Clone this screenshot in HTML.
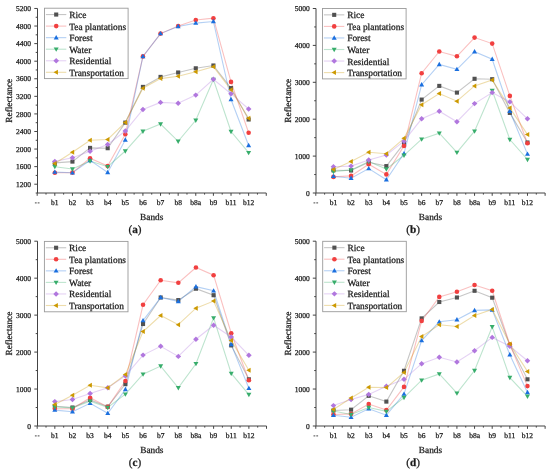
<!DOCTYPE html>
<html><head><meta charset="utf-8"><style>
html,body{margin:0;padding:0;background:#fff;}
svg{display:block;}
text{font-family:"Liberation Serif",serif;fill:#1a1a1a;stroke:#1a1a1a;stroke-width:0.25px;text-rendering:geometricPrecision;}
svg{will-change:transform;}
</style></head><body>
<svg width="550" height="472" viewBox="0 0 550 472">
<rect width="550" height="472" fill="#fff"/>
<path d="M37.5 8.46V193H266.26" fill="none" stroke="#444" stroke-width="1.0"/>
<path d="M37.5 193h-1.8M37.5 184.21h-3.2M37.5 175.42h-1.8M37.5 166.64h-3.2M37.5 157.85h-1.8M37.5 149.06h-3.2M37.5 140.27h-1.8M37.5 131.49h-3.2M37.5 122.7h-1.8M37.5 113.91h-3.2M37.5 105.12h-1.8M37.5 96.34h-3.2M37.5 87.55h-1.8M37.5 78.76h-3.2M37.5 69.97h-1.8M37.5 61.19h-3.2M37.5 52.4h-1.8M37.5 43.61h-3.2M37.5 34.82h-1.8M37.5 26.04h-3.2M37.5 17.25h-1.8M37.5 8.46h-3.2M37.2 193v2.8M46.01 193v1.6M54.82 193v2.8M63.63 193v1.6M72.44 193v2.8M81.25 193v1.6M90.06 193v2.8M98.87 193v1.6M107.68 193v2.8M116.49 193v1.6M125.3 193v2.8M134.11 193v1.6M142.92 193v2.8M151.73 193v1.6M160.54 193v2.8M169.35 193v1.6M178.16 193v2.8M186.97 193v1.6M195.78 193v2.8M204.59 193v1.6M213.4 193v2.8M222.21 193v1.6M231.02 193v2.8M239.83 193v1.6M248.64 193v2.8M257.45 193v1.6M266.26 193v2.8" fill="none" stroke="#444" stroke-width="1.0"/>
<text x="31.1" y="186.81" text-anchor="end" font-size="7.5">1200</text>
<text x="31.1" y="169.24" text-anchor="end" font-size="7.5">1600</text>
<text x="31.1" y="151.66" text-anchor="end" font-size="7.5">2000</text>
<text x="31.1" y="134.09" text-anchor="end" font-size="7.5">2400</text>
<text x="31.1" y="116.51" text-anchor="end" font-size="7.5">2800</text>
<text x="31.1" y="98.94" text-anchor="end" font-size="7.5">3200</text>
<text x="31.1" y="81.36" text-anchor="end" font-size="7.5">3600</text>
<text x="31.1" y="63.79" text-anchor="end" font-size="7.5">4000</text>
<text x="31.1" y="46.21" text-anchor="end" font-size="7.5">4400</text>
<text x="31.1" y="28.64" text-anchor="end" font-size="7.5">4800</text>
<text x="31.1" y="11.06" text-anchor="end" font-size="7.5">5200</text>
<path d="M34.9 202.9h1.8M37.7 202.9h1.8" stroke="#333" stroke-width="0.9"/>
<text x="54.82" y="205.1" text-anchor="middle" font-size="7.5">b1</text>
<text x="72.44" y="205.1" text-anchor="middle" font-size="7.5">b2</text>
<text x="90.06" y="205.1" text-anchor="middle" font-size="7.5">b3</text>
<text x="107.68" y="205.1" text-anchor="middle" font-size="7.5">b4</text>
<text x="125.3" y="205.1" text-anchor="middle" font-size="7.5">b5</text>
<text x="142.92" y="205.1" text-anchor="middle" font-size="7.5">b6</text>
<text x="160.54" y="205.1" text-anchor="middle" font-size="7.5">b7</text>
<text x="178.16" y="205.1" text-anchor="middle" font-size="7.5">b8</text>
<text x="195.78" y="205.1" text-anchor="middle" font-size="7.5">b8a</text>
<text x="213.4" y="205.1" text-anchor="middle" font-size="7.5">b9</text>
<text x="231.02" y="205.1" text-anchor="middle" font-size="7.5">b11</text>
<text x="248.64" y="205.1" text-anchor="middle" font-size="7.5">b12</text>
<text x="151.73" y="219.7" text-anchor="middle" font-size="9.3">Bands</text>
<text transform="translate(12 100.73) rotate(-90)" text-anchor="middle" font-size="9.3">Reflectance</text>
<text x="135" y="233.4" text-anchor="middle" font-size="11.2">(<tspan font-weight="bold">a</tspan>)</text>
<polyline points="54.82,162.9 72.44,161.6 90.06,147.9 107.68,148.2 125.3,122.6 142.92,86.9 160.54,76.9 178.16,72.5 195.78,68.3 213.4,65.5 231.02,88.1 248.64,119.5" fill="none" stroke="#515151" stroke-opacity="0.33" stroke-width="1.1"/>
<polyline points="54.82,172.7 72.44,172.6 90.06,158.2 107.68,166.1 125.3,134.2 142.92,56.4 160.54,33.6 178.16,26 195.78,20 213.4,18.2 231.02,81.9 248.64,132.7" fill="none" stroke="#F14040" stroke-opacity="0.33" stroke-width="1.1"/>
<polyline points="54.82,172.1 72.44,172.8 90.06,160.4 107.68,172.5 125.3,139.9 142.92,56.4 160.54,33.6 178.16,26.5 195.78,23.1 213.4,21.5 231.02,99.5 248.64,145.5" fill="none" stroke="#1A6FDF" stroke-opacity="0.33" stroke-width="1.1"/>
<polyline points="54.82,166.7 72.44,169 90.06,161 107.68,166.7 125.3,151 142.92,131.3 160.54,124 178.16,141.3 195.78,120.3 213.4,79.6 231.02,131.5 248.64,152.7" fill="none" stroke="#37AD6B" stroke-opacity="0.33" stroke-width="1.1"/>
<polyline points="54.82,161.4 72.44,157.8 90.06,151.3 107.68,144.4 125.3,131 142.92,109.5 160.54,102.4 178.16,103.3 195.78,95.1 213.4,79.3 231.02,93.7 248.64,109" fill="none" stroke="#B177DE" stroke-opacity="0.33" stroke-width="1.1"/>
<polyline points="54.82,163.5 72.44,152.3 90.06,140.3 107.68,139.5 125.3,122.5 142.92,88.2 160.54,78.6 178.16,76.2 195.78,71.8 213.4,66.7 231.02,89.8 248.64,118.3" fill="none" stroke="#CC9900" stroke-opacity="0.33" stroke-width="1.1"/>
<rect x="52.77" y="160.85" width="4.1" height="4.1" fill="#515151"/>
<rect x="70.39" y="159.55" width="4.1" height="4.1" fill="#515151"/>
<rect x="88.01" y="145.85" width="4.1" height="4.1" fill="#515151"/>
<rect x="105.63" y="146.15" width="4.1" height="4.1" fill="#515151"/>
<rect x="123.25" y="120.55" width="4.1" height="4.1" fill="#515151"/>
<rect x="140.87" y="84.85" width="4.1" height="4.1" fill="#515151"/>
<rect x="158.49" y="74.85" width="4.1" height="4.1" fill="#515151"/>
<rect x="176.11" y="70.45" width="4.1" height="4.1" fill="#515151"/>
<rect x="193.73" y="66.25" width="4.1" height="4.1" fill="#515151"/>
<rect x="211.35" y="63.45" width="4.1" height="4.1" fill="#515151"/>
<rect x="228.97" y="86.05" width="4.1" height="4.1" fill="#515151"/>
<rect x="246.59" y="117.45" width="4.1" height="4.1" fill="#515151"/>
<circle cx="54.82" cy="172.7" r="2.3" fill="#F14040"/>
<circle cx="72.44" cy="172.6" r="2.3" fill="#F14040"/>
<circle cx="90.06" cy="158.2" r="2.3" fill="#F14040"/>
<circle cx="107.68" cy="166.1" r="2.3" fill="#F14040"/>
<circle cx="125.3" cy="134.2" r="2.3" fill="#F14040"/>
<circle cx="142.92" cy="56.4" r="2.3" fill="#F14040"/>
<circle cx="160.54" cy="33.6" r="2.3" fill="#F14040"/>
<circle cx="178.16" cy="26" r="2.3" fill="#F14040"/>
<circle cx="195.78" cy="20" r="2.3" fill="#F14040"/>
<circle cx="213.4" cy="18.2" r="2.3" fill="#F14040"/>
<circle cx="231.02" cy="81.9" r="2.3" fill="#F14040"/>
<circle cx="248.64" cy="132.7" r="2.3" fill="#F14040"/>
<path d="M54.82 169.46L57.32 173.86L52.32 173.86Z" fill="#1A6FDF"/>
<path d="M72.44 170.16L74.94 174.56L69.94 174.56Z" fill="#1A6FDF"/>
<path d="M90.06 157.76L92.56 162.16L87.56 162.16Z" fill="#1A6FDF"/>
<path d="M107.68 169.86L110.18 174.26L105.18 174.26Z" fill="#1A6FDF"/>
<path d="M125.3 137.26L127.8 141.66L122.8 141.66Z" fill="#1A6FDF"/>
<path d="M142.92 53.76L145.42 58.16L140.42 58.16Z" fill="#1A6FDF"/>
<path d="M160.54 30.96L163.04 35.36L158.04 35.36Z" fill="#1A6FDF"/>
<path d="M178.16 23.86L180.66 28.26L175.66 28.26Z" fill="#1A6FDF"/>
<path d="M195.78 20.46L198.28 24.86L193.28 24.86Z" fill="#1A6FDF"/>
<path d="M213.4 18.86L215.9 23.26L210.9 23.26Z" fill="#1A6FDF"/>
<path d="M231.02 96.86L233.52 101.26L228.52 101.26Z" fill="#1A6FDF"/>
<path d="M248.64 142.86L251.14 147.26L246.14 147.26Z" fill="#1A6FDF"/>
<path d="M54.82 169.34L57.32 164.94L52.32 164.94Z" fill="#37AD6B"/>
<path d="M72.44 171.64L74.94 167.24L69.94 167.24Z" fill="#37AD6B"/>
<path d="M90.06 163.64L92.56 159.24L87.56 159.24Z" fill="#37AD6B"/>
<path d="M107.68 169.34L110.18 164.94L105.18 164.94Z" fill="#37AD6B"/>
<path d="M125.3 153.64L127.8 149.24L122.8 149.24Z" fill="#37AD6B"/>
<path d="M142.92 133.94L145.42 129.54L140.42 129.54Z" fill="#37AD6B"/>
<path d="M160.54 126.64L163.04 122.24L158.04 122.24Z" fill="#37AD6B"/>
<path d="M178.16 143.94L180.66 139.54L175.66 139.54Z" fill="#37AD6B"/>
<path d="M195.78 122.94L198.28 118.54L193.28 118.54Z" fill="#37AD6B"/>
<path d="M213.4 82.24L215.9 77.84L210.9 77.84Z" fill="#37AD6B"/>
<path d="M231.02 134.14L233.52 129.74L228.52 129.74Z" fill="#37AD6B"/>
<path d="M248.64 155.34L251.14 150.94L246.14 150.94Z" fill="#37AD6B"/>
<path d="M54.82 158.7L57.62 161.4L54.82 164.1L52.02 161.4Z" fill="#B177DE"/>
<path d="M72.44 155.1L75.24 157.8L72.44 160.5L69.64 157.8Z" fill="#B177DE"/>
<path d="M90.06 148.6L92.86 151.3L90.06 154L87.26 151.3Z" fill="#B177DE"/>
<path d="M107.68 141.7L110.48 144.4L107.68 147.1L104.88 144.4Z" fill="#B177DE"/>
<path d="M125.3 128.3L128.1 131L125.3 133.7L122.5 131Z" fill="#B177DE"/>
<path d="M142.92 106.8L145.72 109.5L142.92 112.2L140.12 109.5Z" fill="#B177DE"/>
<path d="M160.54 99.7L163.34 102.4L160.54 105.1L157.74 102.4Z" fill="#B177DE"/>
<path d="M178.16 100.6L180.96 103.3L178.16 106L175.36 103.3Z" fill="#B177DE"/>
<path d="M195.78 92.4L198.58 95.1L195.78 97.8L192.98 95.1Z" fill="#B177DE"/>
<path d="M213.4 76.6L216.2 79.3L213.4 82L210.6 79.3Z" fill="#B177DE"/>
<path d="M231.02 91L233.82 93.7L231.02 96.4L228.22 93.7Z" fill="#B177DE"/>
<path d="M248.64 106.3L251.44 109L248.64 111.7L245.84 109Z" fill="#B177DE"/>
<path d="M52.18 163.5L56.58 161L56.58 166Z" fill="#CC9900"/>
<path d="M69.8 152.3L74.2 149.8L74.2 154.8Z" fill="#CC9900"/>
<path d="M87.42 140.3L91.82 137.8L91.82 142.8Z" fill="#CC9900"/>
<path d="M105.04 139.5L109.44 137L109.44 142Z" fill="#CC9900"/>
<path d="M122.66 122.5L127.06 120L127.06 125Z" fill="#CC9900"/>
<path d="M140.28 88.2L144.68 85.7L144.68 90.7Z" fill="#CC9900"/>
<path d="M157.9 78.6L162.3 76.1L162.3 81.1Z" fill="#CC9900"/>
<path d="M175.52 76.2L179.92 73.7L179.92 78.7Z" fill="#CC9900"/>
<path d="M193.14 71.8L197.54 69.3L197.54 74.3Z" fill="#CC9900"/>
<path d="M210.76 66.7L215.16 64.2L215.16 69.2Z" fill="#CC9900"/>
<path d="M228.38 89.8L232.78 87.3L232.78 92.3Z" fill="#CC9900"/>
<path d="M246 118.3L250.4 115.8L250.4 120.8Z" fill="#CC9900"/>
<rect x="44.5" y="8.2" width="83.6" height="70.4" fill="#fff" stroke="#9a9a9a" stroke-width="0.9"/>
<path d="M45.9 14.55H66.3" stroke="#515151" stroke-opacity="0.33" stroke-width="1.1"/>
<rect x="54.15" y="12.5" width="4.1" height="4.1" fill="#515151"/>
<text x="69.2" y="18.05" font-size="9.4">Rice</text>
<path d="M45.9 26.1H66.3" stroke="#F14040" stroke-opacity="0.33" stroke-width="1.1"/>
<circle cx="56.2" cy="26.1" r="2.3" fill="#F14040"/>
<text x="69.2" y="29.6" font-size="9.4">Tea plantations</text>
<path d="M45.9 37.65H66.3" stroke="#1A6FDF" stroke-opacity="0.33" stroke-width="1.1"/>
<path d="M56.2 35.01L58.7 39.41L53.7 39.41Z" fill="#1A6FDF"/>
<text x="69.2" y="41.15" font-size="9.4">Forest</text>
<path d="M45.9 49.2H66.3" stroke="#37AD6B" stroke-opacity="0.33" stroke-width="1.1"/>
<path d="M56.2 51.84L58.7 47.44L53.7 47.44Z" fill="#37AD6B"/>
<text x="69.2" y="52.7" font-size="9.4">Water</text>
<path d="M45.9 60.75H66.3" stroke="#B177DE" stroke-opacity="0.33" stroke-width="1.1"/>
<path d="M56.2 58.05L59 60.75L56.2 63.45L53.4 60.75Z" fill="#B177DE"/>
<text x="69.2" y="64.25" font-size="9.4">Residential</text>
<path d="M45.9 72.3H66.3" stroke="#CC9900" stroke-opacity="0.33" stroke-width="1.1"/>
<path d="M53.56 72.3L57.96 69.8L57.96 74.8Z" fill="#CC9900"/>
<text x="69.2" y="75.8" font-size="9.4">Transportation</text>
<path d="M316 8.5V193H545.12" fill="none" stroke="#444" stroke-width="1.0"/>
<path d="M316 193h-3.2M316 174.55h-1.8M316 156.1h-3.2M316 137.65h-1.8M316 119.2h-3.2M316 100.75h-1.8M316 82.3h-3.2M316 63.85h-1.8M316 45.4h-3.2M316 26.95h-1.8M316 8.5h-3.2M315.8 193v2.8M324.62 193v1.6M333.44 193v2.8M342.26 193v1.6M351.08 193v2.8M359.9 193v1.6M368.72 193v2.8M377.54 193v1.6M386.36 193v2.8M395.18 193v1.6M404 193v2.8M412.82 193v1.6M421.64 193v2.8M430.46 193v1.6M439.28 193v2.8M448.1 193v1.6M456.92 193v2.8M465.74 193v1.6M474.56 193v2.8M483.38 193v1.6M492.2 193v2.8M501.02 193v1.6M509.84 193v2.8M518.66 193v1.6M527.48 193v2.8M536.3 193v1.6M545.12 193v2.8" fill="none" stroke="#444" stroke-width="1.0"/>
<text x="309.7" y="195.6" text-anchor="end" font-size="7.5">0</text>
<text x="309.7" y="158.7" text-anchor="end" font-size="7.5">1000</text>
<text x="309.7" y="121.8" text-anchor="end" font-size="7.5">2000</text>
<text x="309.7" y="84.9" text-anchor="end" font-size="7.5">3000</text>
<text x="309.7" y="48" text-anchor="end" font-size="7.5">4000</text>
<text x="309.7" y="11.1" text-anchor="end" font-size="7.5">5000</text>
<path d="M313.5 202.9h1.8M316.3 202.9h1.8" stroke="#333" stroke-width="0.9"/>
<text x="333.44" y="205.1" text-anchor="middle" font-size="7.5">b1</text>
<text x="351.08" y="205.1" text-anchor="middle" font-size="7.5">b2</text>
<text x="368.72" y="205.1" text-anchor="middle" font-size="7.5">b3</text>
<text x="386.36" y="205.1" text-anchor="middle" font-size="7.5">b4</text>
<text x="404" y="205.1" text-anchor="middle" font-size="7.5">b5</text>
<text x="421.64" y="205.1" text-anchor="middle" font-size="7.5">b6</text>
<text x="439.28" y="205.1" text-anchor="middle" font-size="7.5">b7</text>
<text x="456.92" y="205.1" text-anchor="middle" font-size="7.5">b8</text>
<text x="474.56" y="205.1" text-anchor="middle" font-size="7.5">b8a</text>
<text x="492.2" y="205.1" text-anchor="middle" font-size="7.5">b9</text>
<text x="509.84" y="205.1" text-anchor="middle" font-size="7.5">b11</text>
<text x="527.48" y="205.1" text-anchor="middle" font-size="7.5">b12</text>
<text x="430.46" y="219.7" text-anchor="middle" font-size="9.3">Bands</text>
<text transform="translate(290.6 100.75) rotate(-90)" text-anchor="middle" font-size="9.3">Reflectance</text>
<text x="413.2" y="233.4" text-anchor="middle" font-size="11.2">(<tspan font-weight="bold">b</tspan>)</text>
<polyline points="333.44,170.3 351.08,170.5 368.72,162.3 386.36,166.1 404,143.4 421.64,99.6 439.28,85.9 456.92,92.6 474.56,78.8 492.2,79.2 509.84,112.9 527.48,142.5" fill="none" stroke="#515151" stroke-opacity="0.33" stroke-width="1.1"/>
<polyline points="333.44,176.9 351.08,175.9 368.72,164.2 386.36,174.4 404,145.9 421.64,73.2 439.28,51.5 456.92,56.3 474.56,37.6 492.2,43.6 509.84,95.9 527.48,143.2" fill="none" stroke="#F14040" stroke-opacity="0.33" stroke-width="1.1"/>
<polyline points="333.44,176.3 351.08,178.2 368.72,168.6 386.36,179.7 404,153.6 421.64,84.7 439.28,64.4 456.92,69.3 474.56,51.7 492.2,59.2 509.84,111.2 527.48,154.1" fill="none" stroke="#1A6FDF" stroke-opacity="0.33" stroke-width="1.1"/>
<polyline points="333.44,171.6 351.08,169.9 368.72,161.6 386.36,169 404,155.3 421.64,139.2 439.28,133.2 456.92,152.4 474.56,131.2 492.2,90.6 509.84,139.5 527.48,159.5" fill="none" stroke="#37AD6B" stroke-opacity="0.33" stroke-width="1.1"/>
<polyline points="333.44,166.7 351.08,166.1 368.72,160 386.36,155 404,141.2 421.64,118.8 439.28,111.2 456.92,121.7 474.56,103.6 492.2,92.6 509.84,101.9 527.48,118.8" fill="none" stroke="#B177DE" stroke-opacity="0.33" stroke-width="1.1"/>
<polyline points="333.44,169.5 351.08,161.4 368.72,152.3 386.36,153.7 404,138.3 421.64,104.7 439.28,93.5 456.92,101.2 474.56,85.9 492.2,80 509.84,107.9 527.48,134.6" fill="none" stroke="#CC9900" stroke-opacity="0.33" stroke-width="1.1"/>
<rect x="331.39" y="168.25" width="4.1" height="4.1" fill="#515151"/>
<rect x="349.03" y="168.45" width="4.1" height="4.1" fill="#515151"/>
<rect x="366.67" y="160.25" width="4.1" height="4.1" fill="#515151"/>
<rect x="384.31" y="164.05" width="4.1" height="4.1" fill="#515151"/>
<rect x="401.95" y="141.35" width="4.1" height="4.1" fill="#515151"/>
<rect x="419.59" y="97.55" width="4.1" height="4.1" fill="#515151"/>
<rect x="437.23" y="83.85" width="4.1" height="4.1" fill="#515151"/>
<rect x="454.87" y="90.55" width="4.1" height="4.1" fill="#515151"/>
<rect x="472.51" y="76.75" width="4.1" height="4.1" fill="#515151"/>
<rect x="490.15" y="77.15" width="4.1" height="4.1" fill="#515151"/>
<rect x="507.79" y="110.85" width="4.1" height="4.1" fill="#515151"/>
<rect x="525.43" y="140.45" width="4.1" height="4.1" fill="#515151"/>
<circle cx="333.44" cy="176.9" r="2.3" fill="#F14040"/>
<circle cx="351.08" cy="175.9" r="2.3" fill="#F14040"/>
<circle cx="368.72" cy="164.2" r="2.3" fill="#F14040"/>
<circle cx="386.36" cy="174.4" r="2.3" fill="#F14040"/>
<circle cx="404" cy="145.9" r="2.3" fill="#F14040"/>
<circle cx="421.64" cy="73.2" r="2.3" fill="#F14040"/>
<circle cx="439.28" cy="51.5" r="2.3" fill="#F14040"/>
<circle cx="456.92" cy="56.3" r="2.3" fill="#F14040"/>
<circle cx="474.56" cy="37.6" r="2.3" fill="#F14040"/>
<circle cx="492.2" cy="43.6" r="2.3" fill="#F14040"/>
<circle cx="509.84" cy="95.9" r="2.3" fill="#F14040"/>
<circle cx="527.48" cy="143.2" r="2.3" fill="#F14040"/>
<path d="M333.44 173.66L335.94 178.06L330.94 178.06Z" fill="#1A6FDF"/>
<path d="M351.08 175.56L353.58 179.96L348.58 179.96Z" fill="#1A6FDF"/>
<path d="M368.72 165.96L371.22 170.36L366.22 170.36Z" fill="#1A6FDF"/>
<path d="M386.36 177.06L388.86 181.46L383.86 181.46Z" fill="#1A6FDF"/>
<path d="M404 150.96L406.5 155.36L401.5 155.36Z" fill="#1A6FDF"/>
<path d="M421.64 82.06L424.14 86.46L419.14 86.46Z" fill="#1A6FDF"/>
<path d="M439.28 61.76L441.78 66.16L436.78 66.16Z" fill="#1A6FDF"/>
<path d="M456.92 66.66L459.42 71.06L454.42 71.06Z" fill="#1A6FDF"/>
<path d="M474.56 49.06L477.06 53.46L472.06 53.46Z" fill="#1A6FDF"/>
<path d="M492.2 56.56L494.7 60.96L489.7 60.96Z" fill="#1A6FDF"/>
<path d="M509.84 108.56L512.34 112.96L507.34 112.96Z" fill="#1A6FDF"/>
<path d="M527.48 151.46L529.98 155.86L524.98 155.86Z" fill="#1A6FDF"/>
<path d="M333.44 174.24L335.94 169.84L330.94 169.84Z" fill="#37AD6B"/>
<path d="M351.08 172.54L353.58 168.14L348.58 168.14Z" fill="#37AD6B"/>
<path d="M368.72 164.24L371.22 159.84L366.22 159.84Z" fill="#37AD6B"/>
<path d="M386.36 171.64L388.86 167.24L383.86 167.24Z" fill="#37AD6B"/>
<path d="M404 157.94L406.5 153.54L401.5 153.54Z" fill="#37AD6B"/>
<path d="M421.64 141.84L424.14 137.44L419.14 137.44Z" fill="#37AD6B"/>
<path d="M439.28 135.84L441.78 131.44L436.78 131.44Z" fill="#37AD6B"/>
<path d="M456.92 155.04L459.42 150.64L454.42 150.64Z" fill="#37AD6B"/>
<path d="M474.56 133.84L477.06 129.44L472.06 129.44Z" fill="#37AD6B"/>
<path d="M492.2 93.24L494.7 88.84L489.7 88.84Z" fill="#37AD6B"/>
<path d="M509.84 142.14L512.34 137.74L507.34 137.74Z" fill="#37AD6B"/>
<path d="M527.48 162.14L529.98 157.74L524.98 157.74Z" fill="#37AD6B"/>
<path d="M333.44 164L336.24 166.7L333.44 169.4L330.64 166.7Z" fill="#B177DE"/>
<path d="M351.08 163.4L353.88 166.1L351.08 168.8L348.28 166.1Z" fill="#B177DE"/>
<path d="M368.72 157.3L371.52 160L368.72 162.7L365.92 160Z" fill="#B177DE"/>
<path d="M386.36 152.3L389.16 155L386.36 157.7L383.56 155Z" fill="#B177DE"/>
<path d="M404 138.5L406.8 141.2L404 143.9L401.2 141.2Z" fill="#B177DE"/>
<path d="M421.64 116.1L424.44 118.8L421.64 121.5L418.84 118.8Z" fill="#B177DE"/>
<path d="M439.28 108.5L442.08 111.2L439.28 113.9L436.48 111.2Z" fill="#B177DE"/>
<path d="M456.92 119L459.72 121.7L456.92 124.4L454.12 121.7Z" fill="#B177DE"/>
<path d="M474.56 100.9L477.36 103.6L474.56 106.3L471.76 103.6Z" fill="#B177DE"/>
<path d="M492.2 89.9L495 92.6L492.2 95.3L489.4 92.6Z" fill="#B177DE"/>
<path d="M509.84 99.2L512.64 101.9L509.84 104.6L507.04 101.9Z" fill="#B177DE"/>
<path d="M527.48 116.1L530.28 118.8L527.48 121.5L524.68 118.8Z" fill="#B177DE"/>
<path d="M330.8 169.5L335.2 167L335.2 172Z" fill="#CC9900"/>
<path d="M348.44 161.4L352.84 158.9L352.84 163.9Z" fill="#CC9900"/>
<path d="M366.08 152.3L370.48 149.8L370.48 154.8Z" fill="#CC9900"/>
<path d="M383.72 153.7L388.12 151.2L388.12 156.2Z" fill="#CC9900"/>
<path d="M401.36 138.3L405.76 135.8L405.76 140.8Z" fill="#CC9900"/>
<path d="M419 104.7L423.4 102.2L423.4 107.2Z" fill="#CC9900"/>
<path d="M436.64 93.5L441.04 91L441.04 96Z" fill="#CC9900"/>
<path d="M454.28 101.2L458.68 98.7L458.68 103.7Z" fill="#CC9900"/>
<path d="M471.92 85.9L476.32 83.4L476.32 88.4Z" fill="#CC9900"/>
<path d="M489.56 80L493.96 77.5L493.96 82.5Z" fill="#CC9900"/>
<path d="M507.2 107.9L511.6 105.4L511.6 110.4Z" fill="#CC9900"/>
<path d="M524.84 134.6L529.24 132.1L529.24 137.1Z" fill="#CC9900"/>
<rect x="322.5" y="8.5" width="83.6" height="70.4" fill="#fff" stroke="#9a9a9a" stroke-width="0.9"/>
<path d="M323.9 14.85H344.3" stroke="#515151" stroke-opacity="0.33" stroke-width="1.1"/>
<rect x="332.15" y="12.8" width="4.1" height="4.1" fill="#515151"/>
<text x="347.2" y="18.35" font-size="9.4">Rice</text>
<path d="M323.9 26.4H344.3" stroke="#F14040" stroke-opacity="0.33" stroke-width="1.1"/>
<circle cx="334.2" cy="26.4" r="2.3" fill="#F14040"/>
<text x="347.2" y="29.9" font-size="9.4">Tea plantations</text>
<path d="M323.9 37.95H344.3" stroke="#1A6FDF" stroke-opacity="0.33" stroke-width="1.1"/>
<path d="M334.2 35.31L336.7 39.71L331.7 39.71Z" fill="#1A6FDF"/>
<text x="347.2" y="41.45" font-size="9.4">Forest</text>
<path d="M323.9 49.5H344.3" stroke="#37AD6B" stroke-opacity="0.33" stroke-width="1.1"/>
<path d="M334.2 52.14L336.7 47.74L331.7 47.74Z" fill="#37AD6B"/>
<text x="347.2" y="53" font-size="9.4">Water</text>
<path d="M323.9 61.05H344.3" stroke="#B177DE" stroke-opacity="0.33" stroke-width="1.1"/>
<path d="M334.2 58.35L337 61.05L334.2 63.75L331.4 61.05Z" fill="#B177DE"/>
<text x="347.2" y="64.55" font-size="9.4">Residential</text>
<path d="M323.9 72.6H344.3" stroke="#CC9900" stroke-opacity="0.33" stroke-width="1.1"/>
<path d="M331.56 72.6L335.96 70.1L335.96 75.1Z" fill="#CC9900"/>
<text x="347.2" y="76.1" font-size="9.4">Transportation</text>
<path d="M37.5 241.2V426H266.52" fill="none" stroke="#444" stroke-width="1.0"/>
<path d="M37.5 426h-3.2M37.5 407.52h-1.8M37.5 389.04h-3.2M37.5 370.56h-1.8M37.5 352.08h-3.2M37.5 333.6h-1.8M37.5 315.12h-3.2M37.5 296.64h-1.8M37.5 278.16h-3.2M37.5 259.68h-1.8M37.5 241.2h-3.2M37.2 426v2.8M46.02 426v1.6M54.84 426v2.8M63.66 426v1.6M72.48 426v2.8M81.3 426v1.6M90.12 426v2.8M98.94 426v1.6M107.76 426v2.8M116.58 426v1.6M125.4 426v2.8M134.22 426v1.6M143.04 426v2.8M151.86 426v1.6M160.68 426v2.8M169.5 426v1.6M178.32 426v2.8M187.14 426v1.6M195.96 426v2.8M204.78 426v1.6M213.6 426v2.8M222.42 426v1.6M231.24 426v2.8M240.06 426v1.6M248.88 426v2.8M257.7 426v1.6M266.52 426v2.8" fill="none" stroke="#444" stroke-width="1.0"/>
<text x="31.1" y="428.6" text-anchor="end" font-size="7.5">0</text>
<text x="31.1" y="391.64" text-anchor="end" font-size="7.5">1000</text>
<text x="31.1" y="354.68" text-anchor="end" font-size="7.5">2000</text>
<text x="31.1" y="317.72" text-anchor="end" font-size="7.5">3000</text>
<text x="31.1" y="280.76" text-anchor="end" font-size="7.5">4000</text>
<text x="31.1" y="243.8" text-anchor="end" font-size="7.5">5000</text>
<path d="M34.9 435.9h1.8M37.7 435.9h1.8" stroke="#333" stroke-width="0.9"/>
<text x="54.84" y="438.1" text-anchor="middle" font-size="7.5">b1</text>
<text x="72.48" y="438.1" text-anchor="middle" font-size="7.5">b2</text>
<text x="90.12" y="438.1" text-anchor="middle" font-size="7.5">b3</text>
<text x="107.76" y="438.1" text-anchor="middle" font-size="7.5">b4</text>
<text x="125.4" y="438.1" text-anchor="middle" font-size="7.5">b5</text>
<text x="143.04" y="438.1" text-anchor="middle" font-size="7.5">b6</text>
<text x="160.68" y="438.1" text-anchor="middle" font-size="7.5">b7</text>
<text x="178.32" y="438.1" text-anchor="middle" font-size="7.5">b8</text>
<text x="195.96" y="438.1" text-anchor="middle" font-size="7.5">b8a</text>
<text x="213.6" y="438.1" text-anchor="middle" font-size="7.5">b9</text>
<text x="231.24" y="438.1" text-anchor="middle" font-size="7.5">b11</text>
<text x="248.88" y="438.1" text-anchor="middle" font-size="7.5">b12</text>
<text x="151.86" y="452.7" text-anchor="middle" font-size="9.3">Bands</text>
<text transform="translate(12 333.6) rotate(-90)" text-anchor="middle" font-size="9.3">Reflectance</text>
<text x="135" y="466.4" text-anchor="middle" font-size="11.2">(<tspan font-weight="bold">c</tspan>)</text>
<polyline points="54.84,406.3 72.48,407.5 90.12,399.9 107.76,406.7 125.4,384.1 143.04,324 160.68,297.5 178.32,300.1 195.96,288.7 213.6,295.2 231.24,345.4 248.88,379.3" fill="none" stroke="#515151" stroke-opacity="0.33" stroke-width="1.1"/>
<polyline points="54.84,408.8 72.48,408.8 90.12,397.7 107.76,406.9 125.4,381 143.04,304.8 160.68,280.3 178.32,282.8 195.96,267.5 213.6,275.2 231.24,333.2 248.88,380.2" fill="none" stroke="#F14040" stroke-opacity="0.33" stroke-width="1.1"/>
<polyline points="54.84,410.1 72.48,411.7 90.12,403.3 107.76,413.3 125.4,389.5 143.04,320.6 160.68,297.5 178.32,301.4 195.96,286.7 213.6,290.8 231.24,344.6 248.88,388.3" fill="none" stroke="#1A6FDF" stroke-opacity="0.33" stroke-width="1.1"/>
<polyline points="54.84,406.9 72.48,407.9 90.12,401.2 107.76,407.5 125.4,394.2 143.04,374.2 160.68,366.1 178.32,387.8 195.96,363.7 213.6,317.9 231.24,373.4 248.88,394.6" fill="none" stroke="#37AD6B" stroke-opacity="0.33" stroke-width="1.1"/>
<polyline points="54.84,401.6 72.48,399.5 90.12,393.5 107.76,387.8 125.4,375.9 143.04,355.1 160.68,346.3 178.32,356.4 195.96,339.2 213.6,325.3 231.24,337 248.88,355.3" fill="none" stroke="#B177DE" stroke-opacity="0.33" stroke-width="1.1"/>
<polyline points="54.84,404.6 72.48,395.2 90.12,385.3 107.76,387.8 125.4,374.6 143.04,331.5 160.68,315.5 178.32,324.7 195.96,308.2 213.6,301.1 231.24,340.4 248.88,370.3" fill="none" stroke="#CC9900" stroke-opacity="0.33" stroke-width="1.1"/>
<rect x="52.79" y="404.25" width="4.1" height="4.1" fill="#515151"/>
<rect x="70.43" y="405.45" width="4.1" height="4.1" fill="#515151"/>
<rect x="88.07" y="397.85" width="4.1" height="4.1" fill="#515151"/>
<rect x="105.71" y="404.65" width="4.1" height="4.1" fill="#515151"/>
<rect x="123.35" y="382.05" width="4.1" height="4.1" fill="#515151"/>
<rect x="140.99" y="321.95" width="4.1" height="4.1" fill="#515151"/>
<rect x="158.63" y="295.45" width="4.1" height="4.1" fill="#515151"/>
<rect x="176.27" y="298.05" width="4.1" height="4.1" fill="#515151"/>
<rect x="193.91" y="286.65" width="4.1" height="4.1" fill="#515151"/>
<rect x="211.55" y="293.15" width="4.1" height="4.1" fill="#515151"/>
<rect x="229.19" y="343.35" width="4.1" height="4.1" fill="#515151"/>
<rect x="246.83" y="377.25" width="4.1" height="4.1" fill="#515151"/>
<circle cx="54.84" cy="408.8" r="2.3" fill="#F14040"/>
<circle cx="72.48" cy="408.8" r="2.3" fill="#F14040"/>
<circle cx="90.12" cy="397.7" r="2.3" fill="#F14040"/>
<circle cx="107.76" cy="406.9" r="2.3" fill="#F14040"/>
<circle cx="125.4" cy="381" r="2.3" fill="#F14040"/>
<circle cx="143.04" cy="304.8" r="2.3" fill="#F14040"/>
<circle cx="160.68" cy="280.3" r="2.3" fill="#F14040"/>
<circle cx="178.32" cy="282.8" r="2.3" fill="#F14040"/>
<circle cx="195.96" cy="267.5" r="2.3" fill="#F14040"/>
<circle cx="213.6" cy="275.2" r="2.3" fill="#F14040"/>
<circle cx="231.24" cy="333.2" r="2.3" fill="#F14040"/>
<circle cx="248.88" cy="380.2" r="2.3" fill="#F14040"/>
<path d="M54.84 407.46L57.34 411.86L52.34 411.86Z" fill="#1A6FDF"/>
<path d="M72.48 409.06L74.98 413.46L69.98 413.46Z" fill="#1A6FDF"/>
<path d="M90.12 400.66L92.62 405.06L87.62 405.06Z" fill="#1A6FDF"/>
<path d="M107.76 410.66L110.26 415.06L105.26 415.06Z" fill="#1A6FDF"/>
<path d="M125.4 386.86L127.9 391.26L122.9 391.26Z" fill="#1A6FDF"/>
<path d="M143.04 317.96L145.54 322.36L140.54 322.36Z" fill="#1A6FDF"/>
<path d="M160.68 294.86L163.18 299.26L158.18 299.26Z" fill="#1A6FDF"/>
<path d="M178.32 298.76L180.82 303.16L175.82 303.16Z" fill="#1A6FDF"/>
<path d="M195.96 284.06L198.46 288.46L193.46 288.46Z" fill="#1A6FDF"/>
<path d="M213.6 288.16L216.1 292.56L211.1 292.56Z" fill="#1A6FDF"/>
<path d="M231.24 341.96L233.74 346.36L228.74 346.36Z" fill="#1A6FDF"/>
<path d="M248.88 385.66L251.38 390.06L246.38 390.06Z" fill="#1A6FDF"/>
<path d="M54.84 409.54L57.34 405.14L52.34 405.14Z" fill="#37AD6B"/>
<path d="M72.48 410.54L74.98 406.14L69.98 406.14Z" fill="#37AD6B"/>
<path d="M90.12 403.84L92.62 399.44L87.62 399.44Z" fill="#37AD6B"/>
<path d="M107.76 410.14L110.26 405.74L105.26 405.74Z" fill="#37AD6B"/>
<path d="M125.4 396.84L127.9 392.44L122.9 392.44Z" fill="#37AD6B"/>
<path d="M143.04 376.84L145.54 372.44L140.54 372.44Z" fill="#37AD6B"/>
<path d="M160.68 368.74L163.18 364.34L158.18 364.34Z" fill="#37AD6B"/>
<path d="M178.32 390.44L180.82 386.04L175.82 386.04Z" fill="#37AD6B"/>
<path d="M195.96 366.34L198.46 361.94L193.46 361.94Z" fill="#37AD6B"/>
<path d="M213.6 320.54L216.1 316.14L211.1 316.14Z" fill="#37AD6B"/>
<path d="M231.24 376.04L233.74 371.64L228.74 371.64Z" fill="#37AD6B"/>
<path d="M248.88 397.24L251.38 392.84L246.38 392.84Z" fill="#37AD6B"/>
<path d="M54.84 398.9L57.64 401.6L54.84 404.3L52.04 401.6Z" fill="#B177DE"/>
<path d="M72.48 396.8L75.28 399.5L72.48 402.2L69.68 399.5Z" fill="#B177DE"/>
<path d="M90.12 390.8L92.92 393.5L90.12 396.2L87.32 393.5Z" fill="#B177DE"/>
<path d="M107.76 385.1L110.56 387.8L107.76 390.5L104.96 387.8Z" fill="#B177DE"/>
<path d="M125.4 373.2L128.2 375.9L125.4 378.6L122.6 375.9Z" fill="#B177DE"/>
<path d="M143.04 352.4L145.84 355.1L143.04 357.8L140.24 355.1Z" fill="#B177DE"/>
<path d="M160.68 343.6L163.48 346.3L160.68 349L157.88 346.3Z" fill="#B177DE"/>
<path d="M178.32 353.7L181.12 356.4L178.32 359.1L175.52 356.4Z" fill="#B177DE"/>
<path d="M195.96 336.5L198.76 339.2L195.96 341.9L193.16 339.2Z" fill="#B177DE"/>
<path d="M213.6 322.6L216.4 325.3L213.6 328L210.8 325.3Z" fill="#B177DE"/>
<path d="M231.24 334.3L234.04 337L231.24 339.7L228.44 337Z" fill="#B177DE"/>
<path d="M248.88 352.6L251.68 355.3L248.88 358L246.08 355.3Z" fill="#B177DE"/>
<path d="M52.2 404.6L56.6 402.1L56.6 407.1Z" fill="#CC9900"/>
<path d="M69.84 395.2L74.24 392.7L74.24 397.7Z" fill="#CC9900"/>
<path d="M87.48 385.3L91.88 382.8L91.88 387.8Z" fill="#CC9900"/>
<path d="M105.12 387.8L109.52 385.3L109.52 390.3Z" fill="#CC9900"/>
<path d="M122.76 374.6L127.16 372.1L127.16 377.1Z" fill="#CC9900"/>
<path d="M140.4 331.5L144.8 329L144.8 334Z" fill="#CC9900"/>
<path d="M158.04 315.5L162.44 313L162.44 318Z" fill="#CC9900"/>
<path d="M175.68 324.7L180.08 322.2L180.08 327.2Z" fill="#CC9900"/>
<path d="M193.32 308.2L197.72 305.7L197.72 310.7Z" fill="#CC9900"/>
<path d="M210.96 301.1L215.36 298.6L215.36 303.6Z" fill="#CC9900"/>
<path d="M228.6 340.4L233 337.9L233 342.9Z" fill="#CC9900"/>
<path d="M246.24 370.3L250.64 367.8L250.64 372.8Z" fill="#CC9900"/>
<rect x="44.4" y="241.4" width="83.6" height="70.4" fill="#fff" stroke="#9a9a9a" stroke-width="0.9"/>
<path d="M45.8 247.75H66.2" stroke="#515151" stroke-opacity="0.33" stroke-width="1.1"/>
<rect x="54.05" y="245.7" width="4.1" height="4.1" fill="#515151"/>
<text x="69.1" y="251.25" font-size="9.4">Rice</text>
<path d="M45.8 259.3H66.2" stroke="#F14040" stroke-opacity="0.33" stroke-width="1.1"/>
<circle cx="56.1" cy="259.3" r="2.3" fill="#F14040"/>
<text x="69.1" y="262.8" font-size="9.4">Tea plantations</text>
<path d="M45.8 270.85H66.2" stroke="#1A6FDF" stroke-opacity="0.33" stroke-width="1.1"/>
<path d="M56.1 268.21L58.6 272.61L53.6 272.61Z" fill="#1A6FDF"/>
<text x="69.1" y="274.35" font-size="9.4">Forest</text>
<path d="M45.8 282.4H66.2" stroke="#37AD6B" stroke-opacity="0.33" stroke-width="1.1"/>
<path d="M56.1 285.04L58.6 280.64L53.6 280.64Z" fill="#37AD6B"/>
<text x="69.1" y="285.9" font-size="9.4">Water</text>
<path d="M45.8 293.95H66.2" stroke="#B177DE" stroke-opacity="0.33" stroke-width="1.1"/>
<path d="M56.1 291.25L58.9 293.95L56.1 296.65L53.3 293.95Z" fill="#B177DE"/>
<text x="69.1" y="297.45" font-size="9.4">Residential</text>
<path d="M45.8 305.5H66.2" stroke="#CC9900" stroke-opacity="0.33" stroke-width="1.1"/>
<path d="M53.46 305.5L57.86 303L57.86 308Z" fill="#CC9900"/>
<text x="69.1" y="309" font-size="9.4">Transportation</text>
<path d="M316 241.2V426H545.12" fill="none" stroke="#444" stroke-width="1.0"/>
<path d="M316 426h-3.2M316 407.52h-1.8M316 389.04h-3.2M316 370.56h-1.8M316 352.08h-3.2M316 333.6h-1.8M316 315.12h-3.2M316 296.64h-1.8M316 278.16h-3.2M316 259.68h-1.8M316 241.2h-3.2M315.8 426v2.8M324.62 426v1.6M333.44 426v2.8M342.26 426v1.6M351.08 426v2.8M359.9 426v1.6M368.72 426v2.8M377.54 426v1.6M386.36 426v2.8M395.18 426v1.6M404 426v2.8M412.82 426v1.6M421.64 426v2.8M430.46 426v1.6M439.28 426v2.8M448.1 426v1.6M456.92 426v2.8M465.74 426v1.6M474.56 426v2.8M483.38 426v1.6M492.2 426v2.8M501.02 426v1.6M509.84 426v2.8M518.66 426v1.6M527.48 426v2.8M536.3 426v1.6M545.12 426v2.8" fill="none" stroke="#444" stroke-width="1.0"/>
<text x="309.7" y="428.6" text-anchor="end" font-size="7.5">0</text>
<text x="309.7" y="391.64" text-anchor="end" font-size="7.5">1000</text>
<text x="309.7" y="354.68" text-anchor="end" font-size="7.5">2000</text>
<text x="309.7" y="317.72" text-anchor="end" font-size="7.5">3000</text>
<text x="309.7" y="280.76" text-anchor="end" font-size="7.5">4000</text>
<text x="309.7" y="243.8" text-anchor="end" font-size="7.5">5000</text>
<path d="M313.5 435.9h1.8M316.3 435.9h1.8" stroke="#333" stroke-width="0.9"/>
<text x="333.44" y="438.1" text-anchor="middle" font-size="7.5">b1</text>
<text x="351.08" y="438.1" text-anchor="middle" font-size="7.5">b2</text>
<text x="368.72" y="438.1" text-anchor="middle" font-size="7.5">b3</text>
<text x="386.36" y="438.1" text-anchor="middle" font-size="7.5">b4</text>
<text x="404" y="438.1" text-anchor="middle" font-size="7.5">b5</text>
<text x="421.64" y="438.1" text-anchor="middle" font-size="7.5">b6</text>
<text x="439.28" y="438.1" text-anchor="middle" font-size="7.5">b7</text>
<text x="456.92" y="438.1" text-anchor="middle" font-size="7.5">b8</text>
<text x="474.56" y="438.1" text-anchor="middle" font-size="7.5">b8a</text>
<text x="492.2" y="438.1" text-anchor="middle" font-size="7.5">b9</text>
<text x="509.84" y="438.1" text-anchor="middle" font-size="7.5">b11</text>
<text x="527.48" y="438.1" text-anchor="middle" font-size="7.5">b12</text>
<text x="430.46" y="452.7" text-anchor="middle" font-size="9.3">Bands</text>
<text transform="translate(290.6 333.6) rotate(-90)" text-anchor="middle" font-size="9.3">Reflectance</text>
<text x="413.2" y="466.4" text-anchor="middle" font-size="11.2">(<tspan font-weight="bold">d</tspan>)</text>
<polyline points="333.44,410.5 351.08,409.7 368.72,395.8 386.36,401.6 404,370.8 421.64,318.4 439.28,302 456.92,297.5 474.56,290.8 492.2,297.7 509.84,345 527.48,379.3" fill="none" stroke="#515151" stroke-opacity="0.33" stroke-width="1.1"/>
<polyline points="333.44,414.5 351.08,413.9 368.72,404.1 386.36,410.1 404,386.9 421.64,320.9 439.28,296.9 456.92,291.8 474.56,285 492.2,290.8 509.84,344.6 527.48,386.1" fill="none" stroke="#F14040" stroke-opacity="0.33" stroke-width="1.1"/>
<polyline points="333.44,415.3 351.08,417.3 368.72,408.8 386.36,415.2 404,394.1 421.64,340.6 439.28,321.8 456.92,319.7 474.56,310.4 492.2,309.9 509.84,354.7 527.48,392.5" fill="none" stroke="#1A6FDF" stroke-opacity="0.33" stroke-width="1.1"/>
<polyline points="333.44,411 351.08,414.5 368.72,407.5 386.36,411.4 404,397.6 421.64,380.2 439.28,373.9 456.92,393.2 474.56,370.5 492.2,326.8 509.84,377.6 527.48,396.3" fill="none" stroke="#37AD6B" stroke-opacity="0.33" stroke-width="1.1"/>
<polyline points="333.44,405.6 351.08,399.5 368.72,394.4 386.36,386.3 404,379.3 421.64,363.7 439.28,357.3 456.92,362 474.56,350.8 492.2,337.4 509.84,346.3 527.48,360.7" fill="none" stroke="#B177DE" stroke-opacity="0.33" stroke-width="1.1"/>
<polyline points="333.44,409.5 351.08,398 368.72,387.2 386.36,387.6 404,372.5 421.64,336.5 439.28,324.7 456.92,326.5 474.56,315.5 492.2,309.4 509.84,344.1 527.48,371.4" fill="none" stroke="#CC9900" stroke-opacity="0.33" stroke-width="1.1"/>
<rect x="331.39" y="408.45" width="4.1" height="4.1" fill="#515151"/>
<rect x="349.03" y="407.65" width="4.1" height="4.1" fill="#515151"/>
<rect x="366.67" y="393.75" width="4.1" height="4.1" fill="#515151"/>
<rect x="384.31" y="399.55" width="4.1" height="4.1" fill="#515151"/>
<rect x="401.95" y="368.75" width="4.1" height="4.1" fill="#515151"/>
<rect x="419.59" y="316.35" width="4.1" height="4.1" fill="#515151"/>
<rect x="437.23" y="299.95" width="4.1" height="4.1" fill="#515151"/>
<rect x="454.87" y="295.45" width="4.1" height="4.1" fill="#515151"/>
<rect x="472.51" y="288.75" width="4.1" height="4.1" fill="#515151"/>
<rect x="490.15" y="295.65" width="4.1" height="4.1" fill="#515151"/>
<rect x="507.79" y="342.95" width="4.1" height="4.1" fill="#515151"/>
<rect x="525.43" y="377.25" width="4.1" height="4.1" fill="#515151"/>
<circle cx="333.44" cy="414.5" r="2.3" fill="#F14040"/>
<circle cx="351.08" cy="413.9" r="2.3" fill="#F14040"/>
<circle cx="368.72" cy="404.1" r="2.3" fill="#F14040"/>
<circle cx="386.36" cy="410.1" r="2.3" fill="#F14040"/>
<circle cx="404" cy="386.9" r="2.3" fill="#F14040"/>
<circle cx="421.64" cy="320.9" r="2.3" fill="#F14040"/>
<circle cx="439.28" cy="296.9" r="2.3" fill="#F14040"/>
<circle cx="456.92" cy="291.8" r="2.3" fill="#F14040"/>
<circle cx="474.56" cy="285" r="2.3" fill="#F14040"/>
<circle cx="492.2" cy="290.8" r="2.3" fill="#F14040"/>
<circle cx="509.84" cy="344.6" r="2.3" fill="#F14040"/>
<circle cx="527.48" cy="386.1" r="2.3" fill="#F14040"/>
<path d="M333.44 412.66L335.94 417.06L330.94 417.06Z" fill="#1A6FDF"/>
<path d="M351.08 414.66L353.58 419.06L348.58 419.06Z" fill="#1A6FDF"/>
<path d="M368.72 406.16L371.22 410.56L366.22 410.56Z" fill="#1A6FDF"/>
<path d="M386.36 412.56L388.86 416.96L383.86 416.96Z" fill="#1A6FDF"/>
<path d="M404 391.46L406.5 395.86L401.5 395.86Z" fill="#1A6FDF"/>
<path d="M421.64 337.96L424.14 342.36L419.14 342.36Z" fill="#1A6FDF"/>
<path d="M439.28 319.16L441.78 323.56L436.78 323.56Z" fill="#1A6FDF"/>
<path d="M456.92 317.06L459.42 321.46L454.42 321.46Z" fill="#1A6FDF"/>
<path d="M474.56 307.76L477.06 312.16L472.06 312.16Z" fill="#1A6FDF"/>
<path d="M492.2 307.26L494.7 311.66L489.7 311.66Z" fill="#1A6FDF"/>
<path d="M509.84 352.06L512.34 356.46L507.34 356.46Z" fill="#1A6FDF"/>
<path d="M527.48 389.86L529.98 394.26L524.98 394.26Z" fill="#1A6FDF"/>
<path d="M333.44 413.64L335.94 409.24L330.94 409.24Z" fill="#37AD6B"/>
<path d="M351.08 417.14L353.58 412.74L348.58 412.74Z" fill="#37AD6B"/>
<path d="M368.72 410.14L371.22 405.74L366.22 405.74Z" fill="#37AD6B"/>
<path d="M386.36 414.04L388.86 409.64L383.86 409.64Z" fill="#37AD6B"/>
<path d="M404 400.24L406.5 395.84L401.5 395.84Z" fill="#37AD6B"/>
<path d="M421.64 382.84L424.14 378.44L419.14 378.44Z" fill="#37AD6B"/>
<path d="M439.28 376.54L441.78 372.14L436.78 372.14Z" fill="#37AD6B"/>
<path d="M456.92 395.84L459.42 391.44L454.42 391.44Z" fill="#37AD6B"/>
<path d="M474.56 373.14L477.06 368.74L472.06 368.74Z" fill="#37AD6B"/>
<path d="M492.2 329.44L494.7 325.04L489.7 325.04Z" fill="#37AD6B"/>
<path d="M509.84 380.24L512.34 375.84L507.34 375.84Z" fill="#37AD6B"/>
<path d="M527.48 398.94L529.98 394.54L524.98 394.54Z" fill="#37AD6B"/>
<path d="M333.44 402.9L336.24 405.6L333.44 408.3L330.64 405.6Z" fill="#B177DE"/>
<path d="M351.08 396.8L353.88 399.5L351.08 402.2L348.28 399.5Z" fill="#B177DE"/>
<path d="M368.72 391.7L371.52 394.4L368.72 397.1L365.92 394.4Z" fill="#B177DE"/>
<path d="M386.36 383.6L389.16 386.3L386.36 389L383.56 386.3Z" fill="#B177DE"/>
<path d="M404 376.6L406.8 379.3L404 382L401.2 379.3Z" fill="#B177DE"/>
<path d="M421.64 361L424.44 363.7L421.64 366.4L418.84 363.7Z" fill="#B177DE"/>
<path d="M439.28 354.6L442.08 357.3L439.28 360L436.48 357.3Z" fill="#B177DE"/>
<path d="M456.92 359.3L459.72 362L456.92 364.7L454.12 362Z" fill="#B177DE"/>
<path d="M474.56 348.1L477.36 350.8L474.56 353.5L471.76 350.8Z" fill="#B177DE"/>
<path d="M492.2 334.7L495 337.4L492.2 340.1L489.4 337.4Z" fill="#B177DE"/>
<path d="M509.84 343.6L512.64 346.3L509.84 349L507.04 346.3Z" fill="#B177DE"/>
<path d="M527.48 358L530.28 360.7L527.48 363.4L524.68 360.7Z" fill="#B177DE"/>
<path d="M330.8 409.5L335.2 407L335.2 412Z" fill="#CC9900"/>
<path d="M348.44 398L352.84 395.5L352.84 400.5Z" fill="#CC9900"/>
<path d="M366.08 387.2L370.48 384.7L370.48 389.7Z" fill="#CC9900"/>
<path d="M383.72 387.6L388.12 385.1L388.12 390.1Z" fill="#CC9900"/>
<path d="M401.36 372.5L405.76 370L405.76 375Z" fill="#CC9900"/>
<path d="M419 336.5L423.4 334L423.4 339Z" fill="#CC9900"/>
<path d="M436.64 324.7L441.04 322.2L441.04 327.2Z" fill="#CC9900"/>
<path d="M454.28 326.5L458.68 324L458.68 329Z" fill="#CC9900"/>
<path d="M471.92 315.5L476.32 313L476.32 318Z" fill="#CC9900"/>
<path d="M489.56 309.4L493.96 306.9L493.96 311.9Z" fill="#CC9900"/>
<path d="M507.2 344.1L511.6 341.6L511.6 346.6Z" fill="#CC9900"/>
<path d="M524.84 371.4L529.24 368.9L529.24 373.9Z" fill="#CC9900"/>
<rect x="322.7" y="241.3" width="83.6" height="70.4" fill="#fff" stroke="#9a9a9a" stroke-width="0.9"/>
<path d="M324.1 247.65H344.5" stroke="#515151" stroke-opacity="0.33" stroke-width="1.1"/>
<rect x="332.35" y="245.6" width="4.1" height="4.1" fill="#515151"/>
<text x="347.4" y="251.15" font-size="9.4">Rice</text>
<path d="M324.1 259.2H344.5" stroke="#F14040" stroke-opacity="0.33" stroke-width="1.1"/>
<circle cx="334.4" cy="259.2" r="2.3" fill="#F14040"/>
<text x="347.4" y="262.7" font-size="9.4">Tea plantations</text>
<path d="M324.1 270.75H344.5" stroke="#1A6FDF" stroke-opacity="0.33" stroke-width="1.1"/>
<path d="M334.4 268.11L336.9 272.51L331.9 272.51Z" fill="#1A6FDF"/>
<text x="347.4" y="274.25" font-size="9.4">Forest</text>
<path d="M324.1 282.3H344.5" stroke="#37AD6B" stroke-opacity="0.33" stroke-width="1.1"/>
<path d="M334.4 284.94L336.9 280.54L331.9 280.54Z" fill="#37AD6B"/>
<text x="347.4" y="285.8" font-size="9.4">Water</text>
<path d="M324.1 293.85H344.5" stroke="#B177DE" stroke-opacity="0.33" stroke-width="1.1"/>
<path d="M334.4 291.15L337.2 293.85L334.4 296.55L331.6 293.85Z" fill="#B177DE"/>
<text x="347.4" y="297.35" font-size="9.4">Residential</text>
<path d="M324.1 305.4H344.5" stroke="#CC9900" stroke-opacity="0.33" stroke-width="1.1"/>
<path d="M331.76 305.4L336.16 302.9L336.16 307.9Z" fill="#CC9900"/>
<text x="347.4" y="308.9" font-size="9.4">Transportation</text>
</svg>
</body></html>
